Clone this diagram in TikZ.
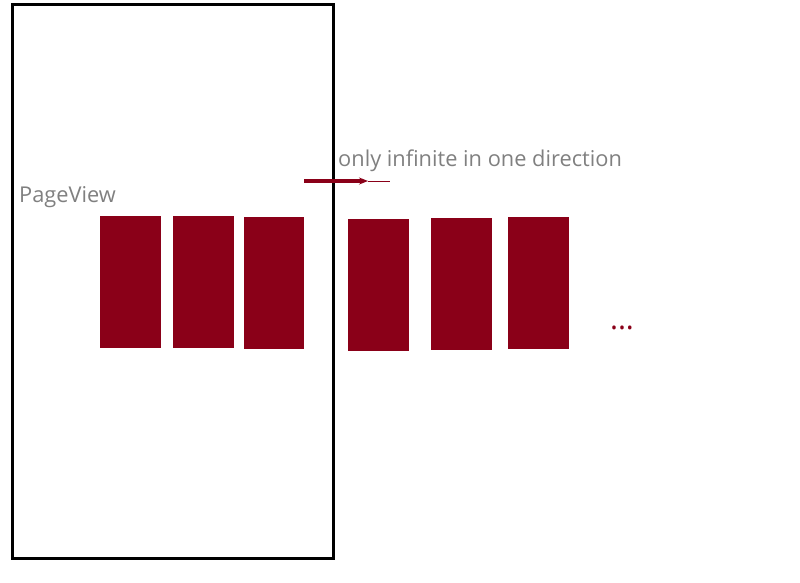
\documentclass[tikz,border=0pt]{standalone}
\usepackage{fontspec}
\setmainfont{Open Sans}
\usetikzlibrary{arrows.meta}
\definecolor{pagered}{HTML}{8A0018}
\definecolor{labelgray}{HTML}{808080}
\tikzset{
  page/.style={fill=pagered, draw=none, minimum width=61pt, minimum height=132pt, inner sep=0pt},
  label/.style={text=labelgray, font=\fontsize{21.8}{26}\selectfont, inner sep=0pt, anchor=base west}
}
\begin{document}
\begin{tikzpicture}[x=1pt, y=-1pt]
    \useasboundingbox (0,0) rectangle (800,582);

    % Define the visible frame
    \node[draw, line width=3pt, minimum width=321pt, minimum height=554pt, inner sep=0pt] (frame) at (172.5, 281) {};
    \node[label] (pv) at (19, 202) {PageView};

    % Define the pages
    \node[page] (P1) at (130.5, 282) {};
    \node[page] (P2) at (203.5, 282) {};
    \node[page, minimum width=60pt] (P3) at (274, 283) {};
    \node[page] (P4) at (378.5, 284.5) {};
    \node[page] (P5) at (461.5, 283.5) {};
    \node[page] (P6) at (538.5, 283) {};
    \node[text=pagered, font=\fontsize{30}{34}\selectfont, inner sep=0pt, anchor=base] (dots) at (622, 329) {...};

    % Draw the direction arrow
    \coordinate (a0) at (304, 181);
    \coordinate (a1) at (368, 181);
    \coordinate (a2) at (390, 181);
    \draw[pagered, line width=3.5pt, -{Stealth[length=9pt, width=7pt]}] (a0) -- (a1);
    \draw[pagered, line width=0.8pt] (a1) -- (a2);
    \node[label] (dir) at (338, 166) {only infinite in one direction};

\end{tikzpicture}
\end{document}
